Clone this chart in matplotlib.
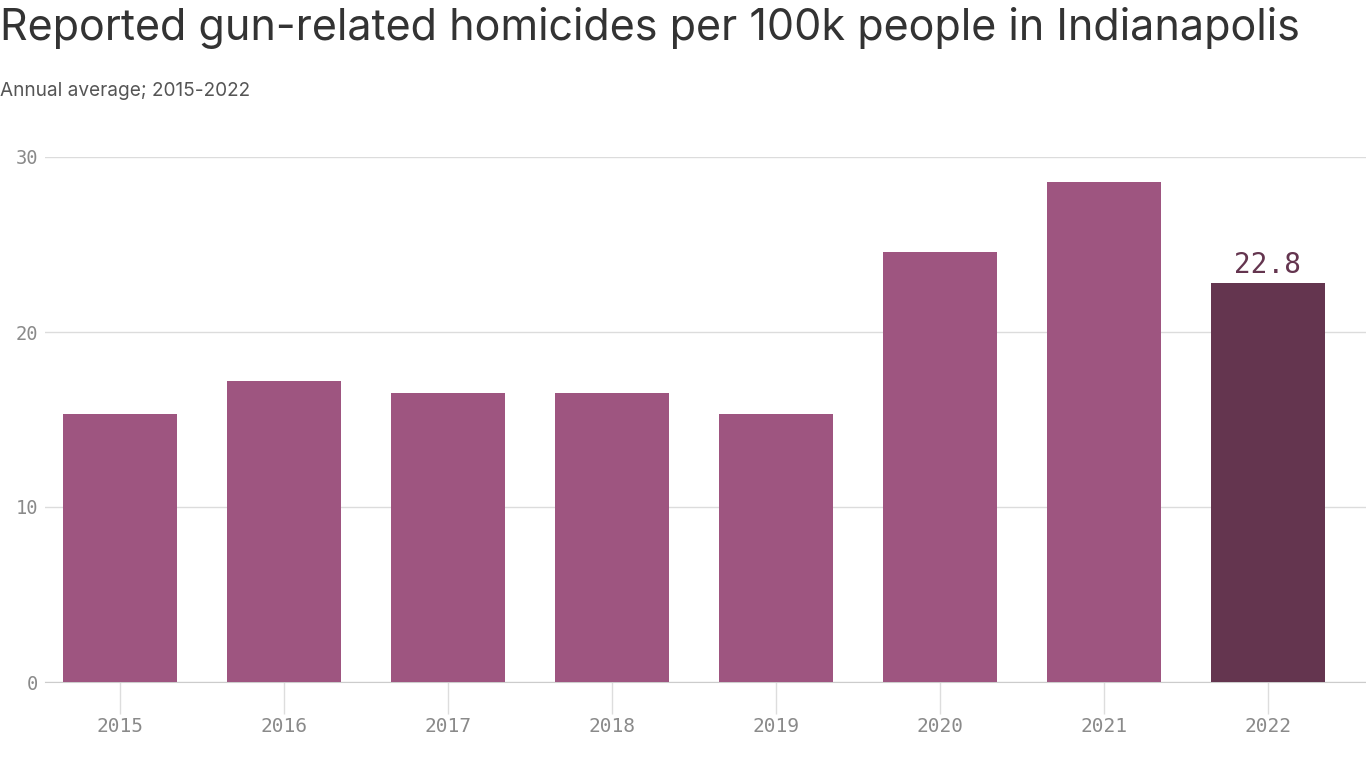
import matplotlib.pyplot as plt

# data
years = ['2015', '2016', '2017', '2018', '2019', '2020', '2021', '2022']
rates = [15.3, 17.2, 16.5, 16.5, 15.3, 24.6, 28.6, 22.8]
yticks = [0, 10, 20, 30]

BAR = '#9e5580'
HIGHLIGHT = '#64354f'
TICK_GRAY = '#8a8a8a'

fig = plt.figure(figsize=(13.66, 7.68), dpi=100)
ax = fig.add_axes([45 / 1366, 1 - 682 / 768, 1 - 45 / 1366, 525 / 768])

colors = [BAR] * (len(years) - 1) + [HIGHLIGHT]
x = range(len(years))
ax.bar(x, rates, width=0.695, color=colors, zorder=3)

# label on last bar
ax.text(len(years) - 1, rates[-1] + 0.25, f'{rates[-1]:.1f}', ha='center', va='bottom',
        fontsize=20, family='DejaVu Sans Mono', color=HIGHLIGHT)

ax.set_xlim(-0.457, 7.6)
ax.set_ylim(0, 30)
ax.set_yticks(yticks)
ax.set_xticks(list(x))
ax.set_xticklabels(years)
ax.grid(axis='y', color='#dcdcdc', linewidth=1, zorder=0)
for s in ['top', 'right', 'left']:
    ax.spines[s].set_visible(False)
ax.spines['bottom'].set_color('#cccccc')
ax.tick_params(axis='y', length=0, pad=5, labelsize=13.5, labelcolor=TICK_GRAY)
ax.tick_params(axis='x', length=23, width=1, color='#dddddd', pad=2, labelsize=14, labelcolor=TICK_GRAY)
for lab in ax.get_xticklabels() + ax.get_yticklabels():
    lab.set_family('DejaVu Sans Mono')

fig.text(0, 1 - 28 / 768, 'Reported gun-related homicides per 100k people in Indianapolis',
         fontsize=31, family='Inter', color='#333333', va='center', ha='left')
fig.text(0, 1 - 91 / 768, 'Annual average; 2015-2022', fontsize=13.7, family='Inter',
         color='#555555', va='center', ha='left')

fig.savefig('out.png', dpi=100)
